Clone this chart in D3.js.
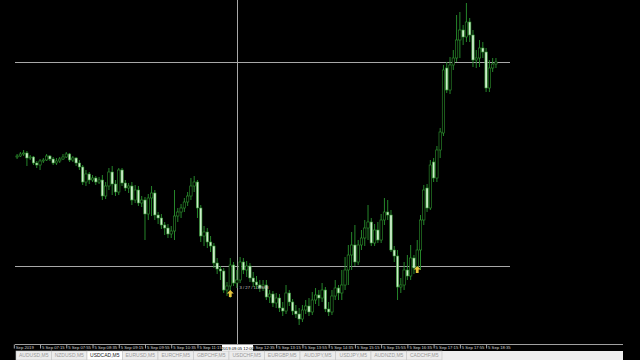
<html>
<head>
<meta charset="utf-8">
<title>USDCAD,M5</title>
<style>
body { margin: 0; background: #000; }
svg { display: block; }
.taxis text { font-family: 'Liberation Sans', sans-serif; font-size: 4.2px; fill: #d0d0d0; }
.taxis line { stroke: #aaa; }
.tab text { font-family: 'Liberation Sans', sans-serif; font-size: 5px; }
</style>
</head>
<body>
<div id="chart"></div>
<script src="https://d3js.org/d3.v7.min.js"></script>
<script>

// USDCAD M5, 5 Sep 2019, first visible bar 06:40
var firstBar = new Date(2019, 8, 5, 6, 40);

var open = [1.33086,1.33088,1.33092,1.33094,1.33084,1.33086,1.33074,1.33070,1.33078,1.33080,
1.33088,1.33082,1.33074,1.33078,1.33082,1.33086,1.33092,1.33080,1.33084,1.33074,
1.33066,1.33036,1.33052,1.33040,1.33044,1.33036,1.33040,1.33008,1.33028,1.33056,
1.33032,1.33016,1.33060,1.33034,1.33024,1.33028,1.33000,1.33020,1.32994,1.33000,
1.32972,1.33004,1.33014,1.32970,1.32964,1.32950,1.32944,1.32932,1.32938,1.32968,
1.32976,1.32984,1.32996,1.33008,1.33028,1.33036,1.32984,1.32928,1.32936,1.32916,
1.32908,1.32874,1.32862,1.32858,1.32820,1.32828,1.32870,1.32834,1.32840,1.32876,
1.32860,1.32868,1.32844,1.32836,1.32830,1.32824,1.32830,1.32806,1.32812,1.32794,
1.32804,1.32784,1.32778,1.32814,1.32796,1.32778,1.32772,1.32762,1.32780,1.32788,
1.32776,1.32800,1.32810,1.32804,1.32820,1.32782,1.32776,1.32808,1.32824,1.32814,
1.32830,1.32860,1.32890,1.32910,1.32876,1.32910,1.32924,1.32944,1.32956,1.32914,
1.32940,1.32920,1.32960,1.32976,1.32970,1.32900,1.32888,1.32826,1.32830,1.32860,
1.32848,1.32884,1.32864,1.32900,1.32960,1.33024,1.32984,1.33076,1.33044,1.33100,
1.33134,1.33264,1.33220,1.33270,1.33284,1.33320,1.33340,1.33326,1.33356,1.33330,
1.33280,1.33284,1.33304,1.33296,1.33224,1.33264,1.33272];

var high = [1.33092,1.33096,1.33100,1.33098,1.33090,1.33088,1.33078,1.33082,1.33084,1.33092,
1.33090,1.33086,1.33084,1.33086,1.33092,1.33096,1.33094,1.33088,1.33086,1.33080,
1.33070,1.33060,1.33056,1.33050,1.33048,1.33046,1.33050,1.33036,1.33064,1.33068,
1.33040,1.33064,1.33064,1.33040,1.33034,1.33036,1.33030,1.33028,1.33008,1.33006,
1.33012,1.33028,1.33020,1.32976,1.32972,1.32956,1.32952,1.32948,1.33020,1.32984,
1.32992,1.33004,1.33016,1.33044,1.33048,1.33040,1.32990,1.32948,1.32944,1.32928,
1.32914,1.32884,1.32868,1.32864,1.32836,1.32884,1.32876,1.32860,1.32886,1.32884,
1.32878,1.32874,1.32856,1.32848,1.32840,1.32840,1.32840,1.32820,1.32818,1.32814,
1.32812,1.32796,1.32830,1.32820,1.32802,1.32790,1.32784,1.32790,1.32800,1.32804,
1.32816,1.32824,1.32820,1.32834,1.32826,1.32796,1.32820,1.32840,1.32830,1.32860,
1.32886,1.32910,1.32936,1.32950,1.32920,1.32940,1.32960,1.32990,1.32964,1.32952,
1.32956,1.32972,1.33004,1.33000,1.32980,1.32908,1.32900,1.32844,1.32876,1.32890,
1.32910,1.32890,1.32920,1.32970,1.33030,1.33032,1.33080,1.33084,1.33108,1.33144,
1.33270,1.33276,1.33286,1.33300,1.33370,1.33376,1.33350,1.33394,1.33364,1.33340,
1.33300,1.33320,1.33316,1.33304,1.33280,1.33284,1.33284];

var low = [1.33082,1.33086,1.33088,1.33068,1.33080,1.33070,1.33064,1.33060,1.33074,1.33078,
1.33078,1.33070,1.33070,1.33074,1.33080,1.33084,1.33076,1.33076,1.33068,1.33060,
1.33030,1.33028,1.33032,1.33036,1.33030,1.33032,1.33000,1.33002,1.33020,1.33010,
1.33008,1.33010,1.33028,1.33018,1.33014,1.32990,1.32994,1.32988,1.32986,1.32920,
1.32960,1.32968,1.32960,1.32952,1.32942,1.32930,1.32924,1.32924,1.32920,1.32956,
1.32964,1.32976,1.32988,1.33000,1.33016,1.32964,1.32916,1.32908,1.32904,1.32896,
1.32864,1.32852,1.32840,1.32814,1.32808,1.32804,1.32828,1.32824,1.32834,1.32852,
1.32846,1.32836,1.32826,1.32822,1.32816,1.32818,1.32800,1.32794,1.32786,1.32784,
1.32776,1.32768,1.32772,1.32788,1.32770,1.32764,1.32750,1.32756,1.32772,1.32768,
1.32770,1.32792,1.32788,1.32796,1.32776,1.32768,1.32770,1.32800,1.32800,1.32800,
1.32820,1.32830,1.32860,1.32868,1.32870,1.32900,1.32908,1.32920,1.32908,1.32908,
1.32914,1.32914,1.32950,1.32960,1.32896,1.32876,1.32800,1.32814,1.32820,1.32840,
1.32840,1.32852,1.32856,1.32860,1.32950,1.32976,1.32980,1.33036,1.33036,1.33084,
1.33128,1.33214,1.33212,1.33260,1.33276,1.33284,1.33310,1.33316,1.33316,1.33266,
1.33264,1.33266,1.33284,1.33216,1.33216,1.33256,1.33264];

var close = [1.33088,1.33092,1.33094,1.33084,1.33086,1.33074,1.33070,1.33078,1.33080,1.33088,
1.33082,1.33074,1.33078,1.33082,1.33086,1.33092,1.33080,1.33084,1.33074,1.33066,
1.33036,1.33052,1.33040,1.33044,1.33036,1.33040,1.33008,1.33028,1.33056,1.33032,
1.33016,1.33060,1.33034,1.33024,1.33028,1.33000,1.33020,1.32994,1.33000,1.32972,
1.33004,1.33014,1.32970,1.32964,1.32950,1.32944,1.32932,1.32938,1.32968,1.32976,
1.32984,1.32996,1.33008,1.33028,1.33036,1.32984,1.32928,1.32936,1.32916,1.32908,
1.32874,1.32862,1.32858,1.32820,1.32828,1.32870,1.32834,1.32840,1.32876,1.32860,
1.32868,1.32844,1.32836,1.32830,1.32824,1.32830,1.32806,1.32812,1.32794,1.32804,
1.32784,1.32778,1.32814,1.32796,1.32778,1.32772,1.32762,1.32780,1.32788,1.32776,
1.32800,1.32810,1.32804,1.32820,1.32782,1.32776,1.32808,1.32824,1.32814,1.32830,
1.32860,1.32890,1.32910,1.32876,1.32910,1.32924,1.32944,1.32956,1.32914,1.32940,
1.32920,1.32960,1.32976,1.32970,1.32900,1.32888,1.32826,1.32830,1.32860,1.32848,
1.32884,1.32864,1.32900,1.32960,1.33020,1.32984,1.33070,1.33044,1.33100,1.33136,
1.33260,1.33220,1.33270,1.33284,1.33320,1.33340,1.33326,1.33356,1.33330,1.33280,
1.33284,1.33304,1.33296,1.33224,1.33264,1.33272,1.33276];

// the 11:55 label sits under the crosshair time box, so it is left out
var tickTimes = ["06:35","07:15","07:55","08:35","09:15","09:55","10:35","11:15",
  "12:35","13:15","13:55","14:35","15:15","15:55","16:35","17:15","17:55","18:35"];
var tickLabels = ["Sep 2019","5 Sep 07:15","5 Sep 07:55","5 Sep 08:35","5 Sep 09:15","5 Sep 09:55",
  "5 Sep 10:35","5 Sep 11:15","5 Sep 12:35","5 Sep 13:15","5 Sep 13:55","5 Sep 14:35",
  "5 Sep 15:15","5 Sep 15:55","5 Sep 16:35","5 Sep 17:15","5 Sep 17:55","5 Sep 18:35"];

var levels = [1.33276, 1.32868];
var arrowTimes = ["12:05", "16:50"];
var arrowPrices = [1.32820, 1.32868];

var crossTime = "12:15";
var crossLabel = "2019.09.05 12:00";
var crossReadout = "3 / 27 / 1.32868";

var tabs = ["AUDUSD,M5","NZDUSD,M5","USDCAD,M5","EURUSD,M5","EURCHF,M5","GBPCHF,M5",
  "USDCHF,M5","EURGBP,M5","AUDJPY,M5","USDJPY,M5","AUDNZD,M5","CADCHF,M5"];
var activeTab = "USDCAD,M5";

var width = 640, height = 360;
var left = 15, right = 623, lineEnd = 510, axisY = 344, tabTop = 351;

var parseT = function(s) {
  var p = s.split(":");
  return new Date(2019, 8, 5, +p[0], +p[1]);
};

var bars = open.map(function(o, i) {
  return { t: d3.timeMinute.offset(firstBar, 5 * i), o: o, h: high[i], l: low[i], c: close[i] };
});

var svg = d3.select("#chart").append("svg")
  .attr("width", width)
  .attr("height", height)
  .style("background", "#000");

var x = d3.scaleTime()
  .domain([parseT("06:35"), parseT("18:35")])
  .range([13.8, 486.1]);

var y = d3.scaleLinear()
  .domain([1.33400, 1.32710])
  .range([0, 345]);

var bw = 2.4;

// horizontal lines
svg.selectAll(".level")
  .data(levels)
  .enter().append("line")
  .attr("class", "level")
  .attr("x1", left).attr("x2", lineEnd)
  .attr("y1", function(d) { return Math.round(y(d)) + 0.5; })
  .attr("y2", function(d) { return Math.round(y(d)) + 0.5; })
  .attr("stroke", "#a8a8a8")
  .attr("stroke-width", 1);

// crosshair vertical
var cx = Math.round(x(parseT(crossTime))) + 0.5;
svg.append("line")
  .attr("x1", cx).attr("x2", cx)
  .attr("y1", 0).attr("y2", axisY)
  .attr("stroke", "#a8a8a8")
  .attr("stroke-width", 1);

// candles
var candle = svg.append("g").selectAll("g")
  .data(bars)
  .enter().append("g");

candle.append("line")
  .attr("x1", function(d) { return x(d.t); })
  .attr("x2", function(d) { return x(d.t); })
  .attr("y1", function(d) { return y(d.h); })
  .attr("y2", function(d) { return y(d.l); })
  .attr("stroke", "#25852a")
  .attr("stroke-width", 1);

candle.append("rect")
  .attr("x", function(d) { return x(d.t) - bw / 2; })
  .attr("y", function(d) { return y(Math.max(d.o, d.c)); })
  .attr("width", bw)
  .attr("height", function(d) { return Math.max(1, Math.abs(y(d.o) - y(d.c))); })
  .attr("fill", function(d) { return d.c < d.o ? "#cdeccb" : "#000"; })
  .attr("stroke", "#2f952f")
  .attr("stroke-width", 0.6);

// buy arrows
svg.selectAll(".arrow")
  .data(arrowTimes)
  .enter().append("path")
  .attr("class", "arrow")
  .attr("transform", function(d, i) {
    return "translate(" + x(parseT(d)) + "," + y(arrowPrices[i]) + ")";
  })
  .attr("d", "M0,0 L3.5,3.5 L1.4,3.5 L1.4,7 L-1.4,7 L-1.4,3.5 L-3.5,3.5 Z")
  .attr("fill", "#e6c53c");

// crosshair readout
svg.append("text")
  .attr("x", cx + 2)
  .attr("y", 289)
  .attr("font-family", "'Liberation Sans', sans-serif")
  .attr("font-size", "4.2px")
  .attr("fill", "#c4c4c4")
  .text(crossReadout);

// time axis
svg.append("line")
  .attr("x1", left).attr("x2", right)
  .attr("y1", axisY + 0.5).attr("y2", axisY + 0.5)
  .attr("stroke", "#a0a0a0");

var axis = d3.axisBottom(x)
  .tickValues(tickTimes.map(parseT))
  .tickFormat(function(d, i) { return tickLabels[i]; })
  .tickSize(4)
  .tickPadding(0);

var gx = svg.append("g")
  .attr("class", "taxis")
  .attr("transform", "translate(0," + (axisY + 0.5) + ")")
  .call(axis);
gx.select(".domain").remove();
gx.selectAll(".tick text")
  .attr("text-anchor", "start")
  .attr("x", 1.5)
  .attr("y", 1)
  .attr("dy", "0.85em");

// crosshair time label
svg.append("rect")
  .attr("x", cx - 15.5).attr("y", axisY + 1)
  .attr("width", 31).attr("height", 6)
  .attr("fill", "#fff");
svg.append("text")
  .attr("x", cx).attr("y", axisY + 5.6)
  .attr("text-anchor", "middle")
  .attr("font-family", "'Liberation Sans', sans-serif")
  .attr("font-size", "4.2px")
  .attr("fill", "#000")
  .text(crossLabel);

// symbol tabs
svg.append("rect")
  .attr("x", left + 1).attr("y", tabTop)
  .attr("width", right - left - 1).attr("height", height - tabTop)
  .attr("fill", "#eeeeee");

var tx = d3.scaleBand()
  .domain(tabs)
  .range([16, 442]);

var tab = svg.selectAll(".tab")
  .data(tabs)
  .enter().append("g")
  .attr("class", "tab")
  .attr("transform", function(d) { return "translate(" + tx(d) + "," + tabTop + ")"; });

tab.append("rect")
  .attr("width", tx.bandwidth())
  .attr("height", height - tabTop)
  .attr("fill", function(d) { return d == activeTab ? "#fff" : "#ececec"; })
  .attr("stroke", "#c4c4c4")
  .attr("stroke-width", 0.6);

tab.append("text")
  .attr("x", tx.bandwidth() / 2)
  .attr("y", 6.3)
  .attr("text-anchor", "middle")
  .attr("fill", function(d) { return d == activeTab ? "#222" : "#9a9a9a"; })
  .text(function(d) { return d; });

</script>
</body>
</html>
